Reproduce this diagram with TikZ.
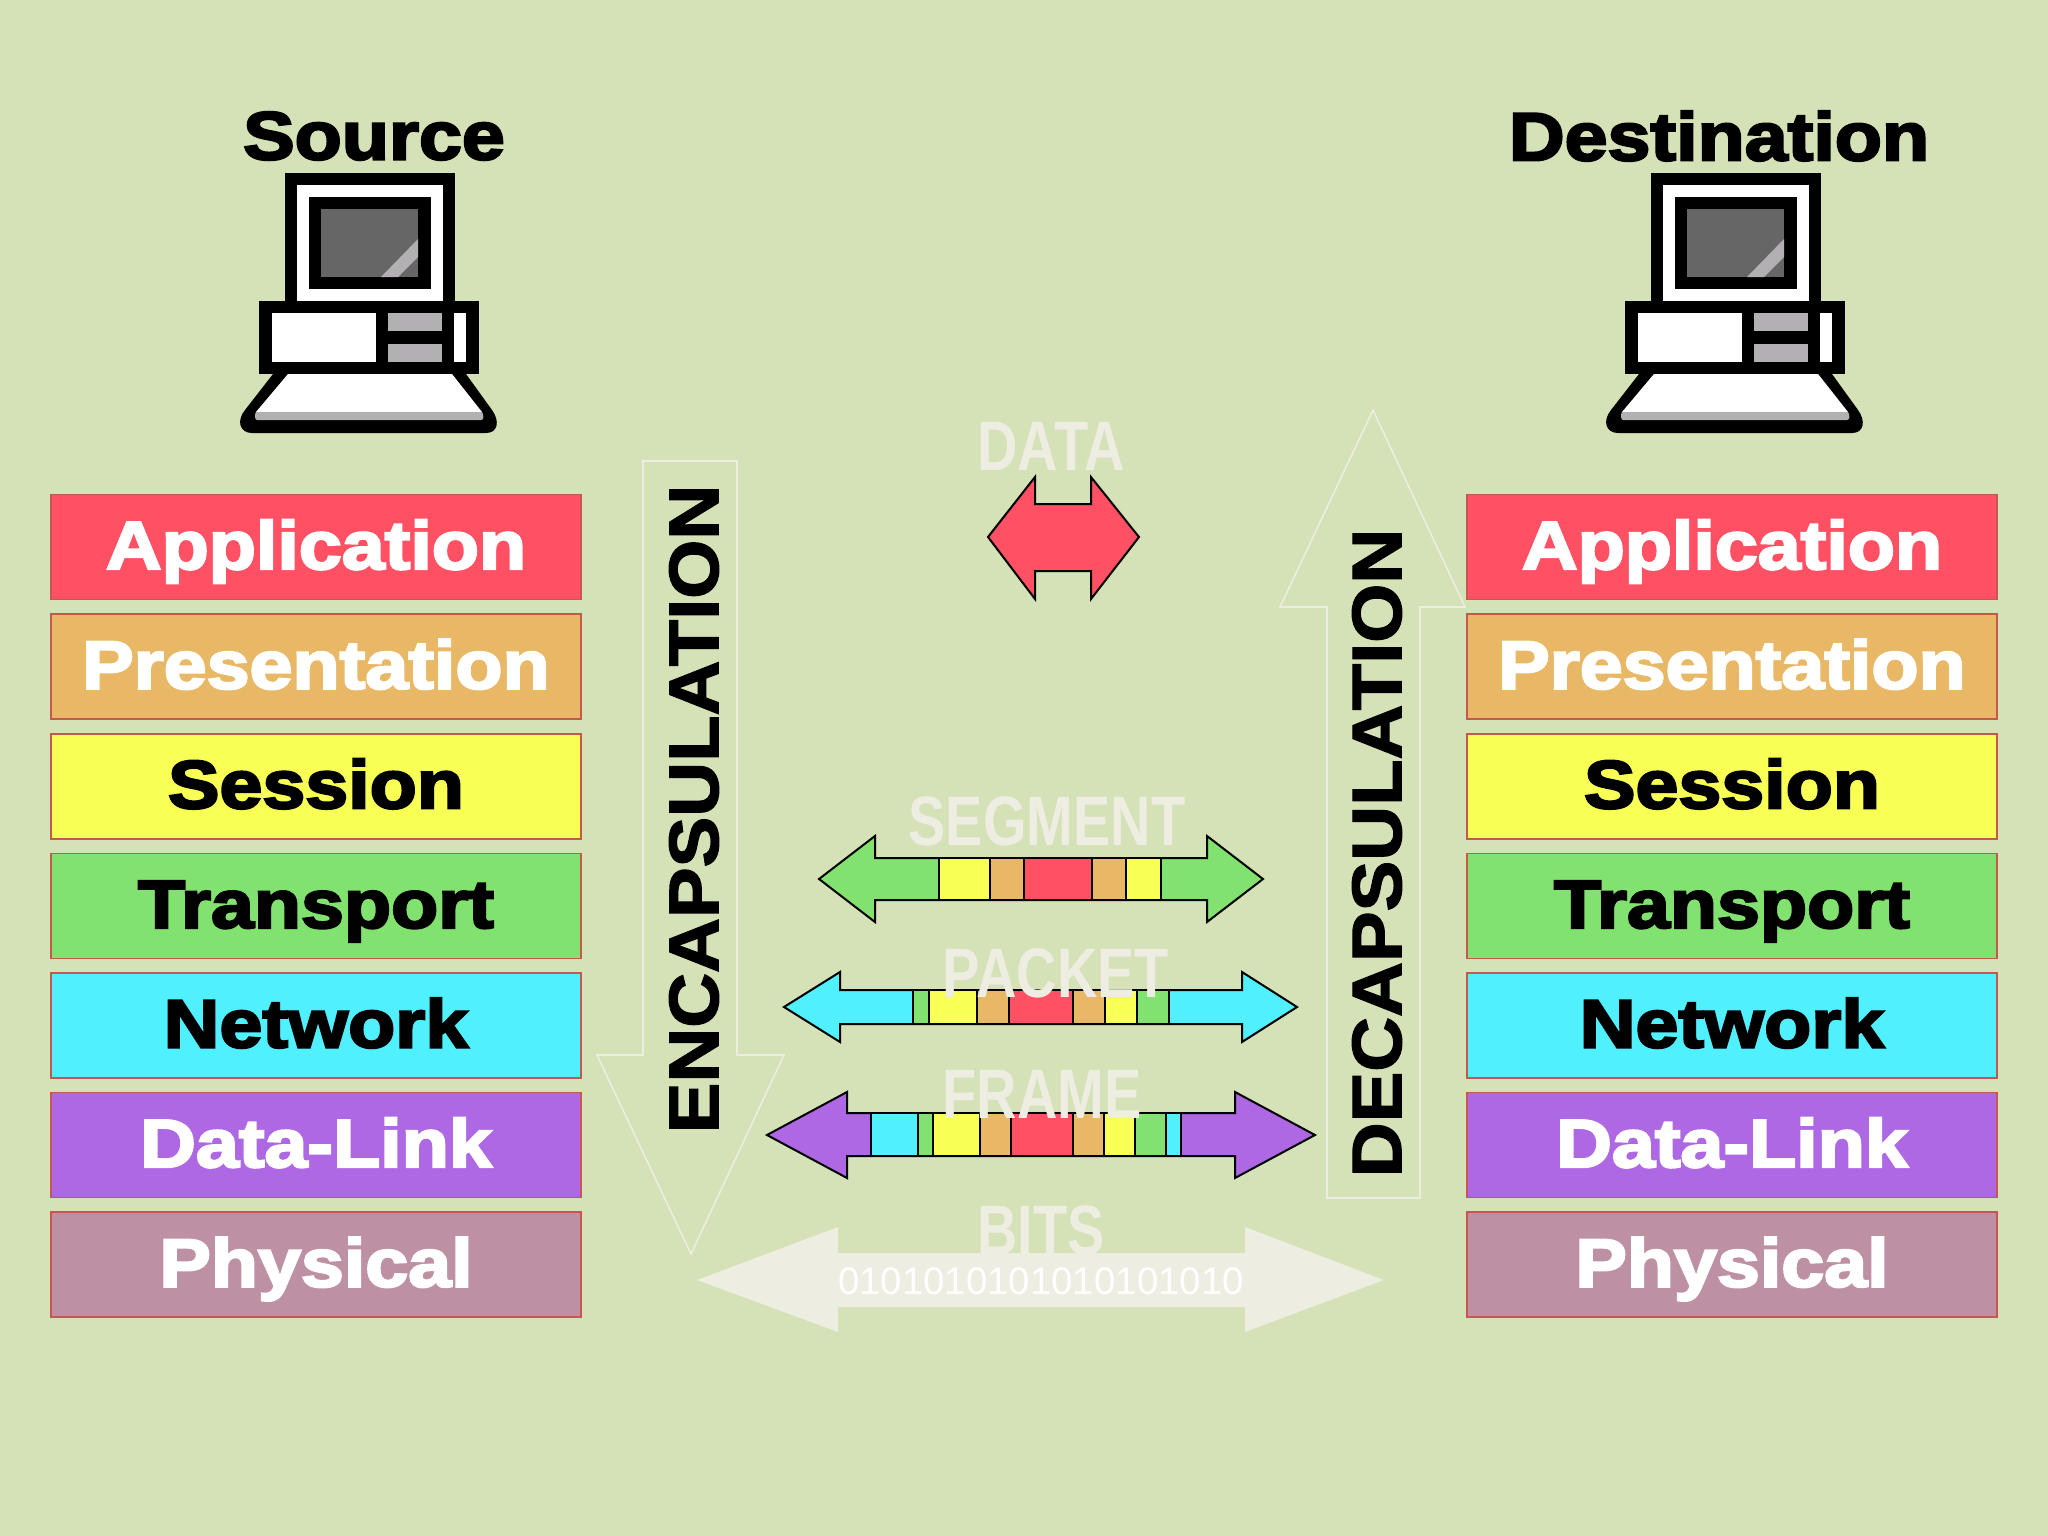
\documentclass[tikz,border=0pt]{standalone}
\usepackage{fontspec}
\usepackage{tikz}
\usetikzlibrary{positioning}

\newfontfamily\heavyfont[FakeBold=3.5,FakeStretch=1.135]{Liberation Sans Bold}
\newfontfamily\sidefont[FakeBold=2,FakeStretch=1.085]{Liberation Sans Bold}
\newfontfamily\pduFont[FakeStretch=0.8]{Liberation Sans Bold}
\newfontfamily\bitFont{Liberation Sans}

\definecolor{paper}{HTML}{D5E1B6}
\definecolor{ghost}{HTML}{EDEDE2}
\definecolor{layerEdge}{HTML}{C4584E}
\definecolor{layerRed}{HTML}{FF5064}
\definecolor{layerOrange}{HTML}{E8B866}
\definecolor{layerYellow}{HTML}{F8FF55}
\definecolor{layerGreen}{HTML}{82E270}
\definecolor{layerCyan}{HTML}{50F0FF}
\definecolor{layerPurple}{HTML}{AE68E4}
\definecolor{layerMauve}{HTML}{BE90A4}
\definecolor{pcGrey}{HTML}{666666}
\definecolor{pcLight}{HTML}{B2B0B2}

\tikzset{
    pc/.pic = {
        \fill [black] (285,173) rectangle (455,301);
        \fill [white] (297,185) rectangle (443,301);
        \fill [black] (309,197) rectangle (431,289);
        \fill [pcGrey] (321,209) rectangle (418,277);
        \fill [pcLight] (381,277) -- (418,239) -- (418,257) -- (398,277) -- cycle;
        \fill [black] (259,301) rectangle (479,374);
        \fill [white] (272,313) rectangle (376,362);
        \fill [pcLight] (388,313) rectangle (442,331);
        \fill [pcLight] (388,344) rectangle (442,362);
        \fill [white] (454,313) rectangle (466,362);
        \fill [black] (273,374) -- (245,410) .. controls (236,421) and (240,433) .. (252,433)
            -- (486,433) .. controls (498,433) and (500,421) .. (492,410) -- (466,374) -- cycle;
        \fill [white] (288,374) -- (452,374) -- (482,412) -- (256,412) -- cycle;
        \fill [pcLight] (256,412) -- (482,412) .. controls (484,415) and (484,420) .. (481,420)
            -- (257,420) .. controls (255,420) and (254,415) .. (256,412) -- cycle;
    }
}

\begin{document}
\begin{tikzpicture}
    [
        x = 1pt, y = -1pt,
        layer/.style = {draw = layerEdge, line width = 1.6pt, minimum width = 530pt, minimum height = 105pt,
            inner sep = 0, text height = 49pt, text depth = 5pt, font = \heavyfont\fontsize{68}{68}\selectfont},
        lightlayer/.style = {layer, text = white},
        darklayer/.style = {layer, text = black},
        title/.style = {inner sep = 0, font = \heavyfont\fontsize{68}{68}\selectfont},
        side/.style = {inner sep = 0, rotate = 90, font = \sidefont\fontsize{70}{70}\selectfont},
        pdu/.style = {inner sep = 0, text = ghost, font = \pduFont\fontsize{70}{70}\selectfont},
        band/.style = {draw = black, line width = 2pt, line join = miter},
        stripe/.style = {draw = black, line width = 2pt},
        hollow/.style = {draw = ghost, line width = 1.6pt}]

    \useasboundingbox (0,0) rectangle (2048,1536);
    \fill [paper] (0,0) rectangle (2048,1536);

    \node [title] (srctitle) at (374,136) {Source};
    \node [title] (dsttitle) at (1719,136) {Destination};
    \pic at (0,0) {pc};
    \pic at (1366,0) {pc};

    % source stack
    \node [lightlayer, fill = layerRed] (srcapp) at (316,547) {Application};
    \node [lightlayer, fill = layerOrange, below = 13pt of srcapp] (srcpre) {Presentation};
    \node [darklayer, fill = layerYellow, below = 13pt of srcpre] (srcses) {Session};
    \node [darklayer, fill = layerGreen, below = 13pt of srcses] (srctra) {Transport};
    \node [darklayer, fill = layerCyan, below = 13pt of srctra] (srcnet) {Network};
    \node [lightlayer, fill = layerPurple, below = 13pt of srcnet] (srclnk) {Data-Link};
    \node [lightlayer, fill = layerMauve, below = 13pt of srclnk] (srcphy) {Physical};

    % destination stack
    \node [lightlayer, fill = layerRed] (dstapp) at (1732,547) {Application};
    \node [lightlayer, fill = layerOrange, below = 13pt of dstapp] (dstpre) {Presentation};
    \node [darklayer, fill = layerYellow, below = 13pt of dstpre] (dstses) {Session};
    \node [darklayer, fill = layerGreen, below = 13pt of dstses] (dsttra) {Transport};
    \node [darklayer, fill = layerCyan, below = 13pt of dsttra] (dstnet) {Network};
    \node [lightlayer, fill = layerPurple, below = 13pt of dstnet] (dstlnk) {Data-Link};
    \node [lightlayer, fill = layerMauve, below = 13pt of dstlnk] (dstphy) {Physical};

    % big outline arrows
    \draw [hollow] (643,461) -- (737,461) -- (737,1055) -- (784,1055) -- (691,1254) -- (597,1055) -- (643,1055) -- cycle;
    \draw [hollow] (1373,410) -- (1465,607) -- (1420,607) -- (1420,1198) -- (1327,1198) -- (1327,607) -- (1280,607) -- cycle;
    \node [side] (enc) at (694,809) {ENCAPSULATION};
    \node [side] (dec) at (1377,853) {DECAPSULATION};

    % data
    \draw [band, fill = layerRed] (988,537) -- (1035,477) -- (1035,504) -- (1091,504) -- (1091,477) -- (1139,537)
        -- (1091,599) -- (1091,571) -- (1035,571) -- (1035,599) -- cycle;

    % segment
    \draw [band, fill = layerGreen] (819,879) -- (875,836) -- (875,858) -- (1207,858) -- (1207,836) -- (1263,879)
        -- (1207,922) -- (1207,900) -- (875,900) -- (875,922) -- cycle;
    \draw [stripe, fill = layerYellow] (939,858) rectangle (990,900);
    \draw [stripe, fill = layerOrange] (990,858) rectangle (1024,900);
    \draw [stripe, fill = layerRed] (1024,858) rectangle (1092,900);
    \draw [stripe, fill = layerOrange] (1092,858) rectangle (1126,900);
    \draw [stripe, fill = layerYellow] (1126,858) rectangle (1161,900);

    % packet
    \draw [band, fill = layerCyan] (784,1007) -- (840,972) -- (840,990) -- (1242,990) -- (1242,972) -- (1297,1007)
        -- (1242,1042) -- (1242,1024) -- (840,1024) -- (840,1042) -- cycle;
    \draw [stripe, fill = layerGreen] (913,990) rectangle (929,1024);
    \draw [stripe, fill = layerYellow] (929,990) rectangle (977,1024);
    \draw [stripe, fill = layerOrange] (977,990) rectangle (1009,1024);
    \draw [stripe, fill = layerRed] (1009,990) rectangle (1073,1024);
    \draw [stripe, fill = layerOrange] (1073,990) rectangle (1105,1024);
    \draw [stripe, fill = layerYellow] (1105,990) rectangle (1137,1024);
    \draw [stripe, fill = layerGreen] (1137,990) rectangle (1169,1024);

    % frame
    \draw [band, fill = layerPurple] (767,1135) -- (847,1092) -- (847,1113) -- (1235,1113) -- (1235,1092) -- (1315,1135)
        -- (1235,1178) -- (1235,1156) -- (847,1156) -- (847,1178) -- cycle;
    \draw [stripe, fill = layerCyan] (871,1113) rectangle (918,1156);
    \draw [stripe, fill = layerGreen] (918,1113) rectangle (933,1156);
    \draw [stripe, fill = layerYellow] (933,1113) rectangle (980,1156);
    \draw [stripe, fill = layerOrange] (980,1113) rectangle (1011,1156);
    \draw [stripe, fill = layerRed] (1011,1113) rectangle (1073,1156);
    \draw [stripe, fill = layerOrange] (1073,1113) rectangle (1104,1156);
    \draw [stripe, fill = layerYellow] (1104,1113) rectangle (1135,1156);
    \draw [stripe, fill = layerGreen] (1135,1113) rectangle (1166,1156);
    \draw [stripe, fill = layerCyan] (1166,1113) rectangle (1181,1156);

    % bits
    \fill [ghost] (697,1280) -- (838,1227) -- (838,1253) -- (1245,1253) -- (1245,1227) -- (1384,1280)
        -- (1245,1332) -- (1245,1307) -- (838,1307) -- (838,1332) -- cycle;
    \node [inner sep = 0, text = white, font = \bitFont\fontsize{38.4}{39}\selectfont] (bitrow) at (1041,1281) {0101010101010101010};

    \node [pdu] (data) at (1051,446) {DATA};
    \node [pdu] (segment) at (1047,821) {SEGMENT};
    \node [pdu] (packet) at (1056,973) {PACKET};
    \node [pdu] (frame) at (1042,1094) {FRAME};
    \node [pdu] (bits) at (1041,1230) {BITS};
\end{tikzpicture}
\end{document}
